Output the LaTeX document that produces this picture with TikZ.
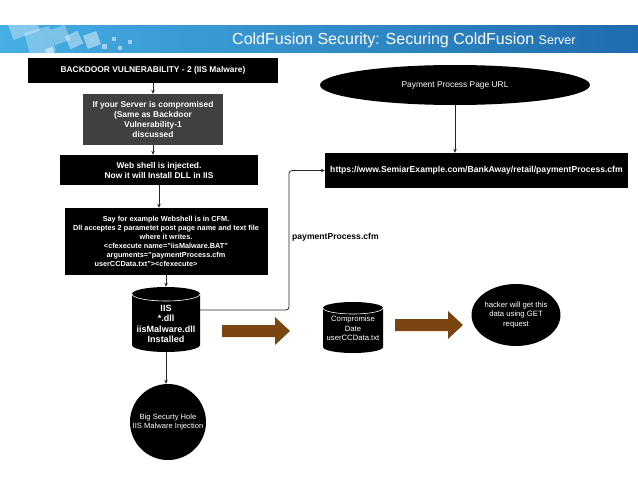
\documentclass[tikz,border=0pt]{standalone}
\usepackage{fontspec}
\setmainfont{Liberation Sans}
\usetikzlibrary{arrows.meta,calc,shapes.geometric}
\definecolor{brownarrow}{HTML}{7A4510}
\definecolor{bannerL}{HTML}{45AEE3}
\definecolor{bannerR}{HTML}{1F6CAE}
\definecolor{boxgray}{HTML}{404040}
\begin{document}
\begin{tikzpicture}[x=1pt,y=-1pt,
  blackbox/.style={fill=black,text=white,align=center,inner sep=0pt,
    font=\bfseries\fontsize{8.4}{10}\selectfont},
  graybox/.style={blackbox,fill=boxgray},
  smallbox/.style={blackbox,font=\bfseries\fontsize{7.3}{9}\selectfont},
  cyltext/.style={text=white,align=center,inner sep=0pt},
  blob/.style={fill=black,text=white,align=center,inner sep=0pt,
    font=\fontsize{7.7}{9.5}\selectfont},
  conn/.style={draw=black!85,line width=0.8pt,-{Stealth[length=4pt,width=3.5pt]}},
  blockarrow/.style={fill=brownarrow},
  deco/.style={fill=white,draw=none}]
\useasboundingbox (0,0) rectangle (638,479);
\fill[white] (0,0) rectangle (638,479);
% banner
\shade[left color=bannerL,right color=bannerR] (0,25) rectangle (638,52);
\begin{scope}
\fill[deco,opacity=0.35,rotate around={20:(22,22)}] (8,8) rectangle (36,36);
\fill[deco,opacity=0.3,rotate around={15:(40,42)}] (27,29) rectangle (53,55);
\fill[deco,opacity=0.3,rotate around={20:(60,35)}] (52,27) rectangle (68,43);
\fill[deco,opacity=0.4,rotate around={25:(74,40)}] (67,33) rectangle (81,47);
\fill[deco,opacity=0.45,rotate around={20:(92,40)}] (85,33) rectangle (99,47);
\fill[deco,opacity=0.5,rotate around={20:(50,52)}] (46,48) rectangle (54,56);
\fill[deco,opacity=0.5] (102,44) rectangle (107,49);
\fill[deco,opacity=0.5] (112,37) rectangle (116,41);
\fill[deco,opacity=0.5] (118,46) rectangle (122,50);
\fill[deco,opacity=0.5] (128,40) rectangle (132,44);
\end{scope}
\node[text=white,anchor=west,inner sep=0pt,font=\fontsize{16}{18}\selectfont] (title) at (232,40)
  {ColdFusion Security: Securing ColdFusion {\fontsize{12.5}{14}\selectfont Server}};
% left column
\node[blackbox,minimum width=250,minimum height=25] (b1) at (153,70)
  {BACKDOOR VULNERABILITY - 2 (IIS Malware)};
\node[graybox,minimum width=140,minimum height=51] (b2) at (153,119.5)
  {If your Server is compromised\\(Same as Backdoor\\Vulnerability-1\\discussed};
\node[blackbox,minimum width=198,minimum height=30] (b3) at (159,170)
  {Web shell is injected.\\Now it will Install DLL in IIS};
\node[smallbox,minimum width=203,minimum height=67] (b4) at (166,241.5)
  {Say for example Webshell is in CFM.\\
   Dll acceptes 2 parametet post page name and text file\\
   where it writes.\\
   <cfexecute name="iisMalware.BAT"\\
   arguments="paymentProcess.cfm\\
   userCCData.txt"><cfexecute>\hspace*{40pt}};
% cylinder 1
\fill[black] (132,294) -- (132,345) arc[start angle=180,end angle=0,x radius=34,y radius=7]
  -- (200,294) arc[start angle=0,end angle=-180,x radius=34,y radius=7] -- cycle;
\draw[white,line width=0.6pt] (132,294) arc[start angle=180,end angle=0,x radius=34,y radius=7];
\node[inner sep=0pt,minimum width=68,minimum height=65] (c1) at (166,319.5) {};
\node[cyltext,font=\bfseries\fontsize{9}{10.4}\selectfont] (c1text) at (166,324)
  {IIS\\*.dll\\iisMalware.dll\\Installed};
\node[blob,circle,minimum size=76,font=\fontsize{7.6}{9.5}\selectfont] (hole) at (168,422)
  {Big Securty Hole\\IIS Malware Injection};
% right side
\node[blob,ellipse,minimum width=270,minimum height=40,font=\fontsize{8.4}{10}\selectfont] (purl) at (455,85)
  {Payment Process Page URL};
\node[blackbox,minimum width=303,minimum height=35,font=\bfseries\fontsize{8.6}{10}\selectfont] (url) at (476.5,170.5)
  {https://www.SemiarExample.com/BankAway/retail/paymentProcess.cfm};
\node[anchor=west,inner sep=0pt,font=\bfseries\fontsize{8.6}{10}\selectfont] (lbl) at (292,237)
  {paymentProcess.cfm};
% cylinder 2
\fill[black] (323,308) -- (323,347) arc[start angle=180,end angle=0,x radius=30,y radius=6]
  -- (383,308) arc[start angle=0,end angle=-180,x radius=30,y radius=6] -- cycle;
\draw[white,line width=0.6pt] (323,308) arc[start angle=180,end angle=0,x radius=30,y radius=6];
\node[cyltext,font=\fontsize{7.7}{9.3}\selectfont] (c2) at (353,328.5)
  {Compromise\\Date\\userCCData.txt};
\node[blob,ellipse,minimum width=88,minimum height=62,inner sep=0pt] (hacker) at (516,315)
  {hacker will get this\\data using GET\\request};
% block arrows
\fill[blockarrow] (222,325) -- (275,325) -- (275,317) -- (290,331) -- (275,345) -- (275,337) -- (222,337) -- cycle;
\fill[blockarrow] (395,319) -- (448,319) -- (448,311) -- (463,325) -- (448,339) -- (448,331) -- (395,331) -- cycle;
% connectors
\draw[conn] (b1.south) -- (b1.south |- b2.north);
\draw[conn] (b2.south) -- (b2.south |- b3.north);
\draw[conn] (b3.south) -- (b3.south |- b4.north);
\draw[conn] (b4.south) -- (b4.south |- c1.north);
\draw[conn] (c1.south) -- (c1.south |- hole.north);
\draw[conn] (purl.south) -- (purl.south |- url.north);
\coordinate (cout) at ($(c1.east)+(0,-9.5)$);
\draw[conn,rounded corners=3pt] (cout) -- (289,310) -- (289,170.5) -- (url.west);
\end{tikzpicture}
\end{document}
